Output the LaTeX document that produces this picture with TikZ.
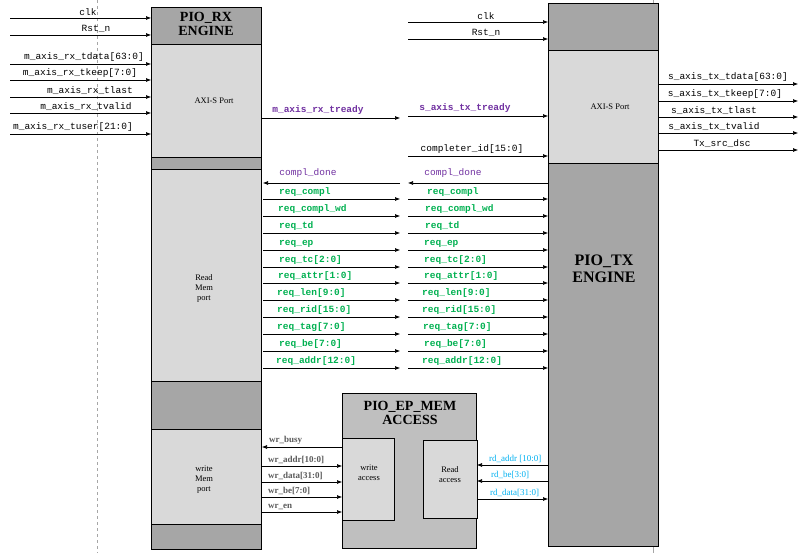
\documentclass[tikz,border=0pt]{standalone}
\usepackage{fontspec}
\setmainfont{Liberation Serif}
\newfontfamily\mono{Liberation Mono}
\usetikzlibrary{arrows.meta}
\definecolor{dk}{HTML}{A6A6A6}
\definecolor{lt}{HTML}{D9D9D9}
\definecolor{md}{HTML}{BFBFBF}
\definecolor{pur}{HTML}{7030A0}
\definecolor{grn}{HTML}{00B050}
\definecolor{cy}{HTML}{00B0F0}
\definecolor{gr}{HTML}{595959}
\tikzset{
 sig/.style={-{Latex[length=5pt,width=4pt]},line width=0.6pt},
 ml/.style={font=\mono\fontsize{9.5}{10}\selectfont,inner sep=1pt,anchor=south},
 gl/.style={font=\mono\bfseries\fontsize{9.5}{10}\selectfont,text=grn,inner sep=1pt,anchor=south west},
 wl/.style={font=\bfseries\fontsize{9}{10}\selectfont,text=gr,inner sep=1pt,anchor=south west},
 cl/.style={font=\fontsize{9}{10}\selectfont,text=cy,inner sep=1pt,anchor=south west},
 blk/.style={draw,line width=0.6pt},
 ttl/.style={font=\bfseries\fontsize{14}{14}\selectfont,align=center},
 sm/.style={font=\fontsize{8.5}{10}\selectfont,align=center}
}
\begin{document}
\begin{tikzpicture}[x=1pt,y=-1pt]
\useasboundingbox (0,0) rectangle (809,553);
\draw[gray!70,dashed] (97,0) -- (97,553);
\draw[gray!70] (653,0) -- (653,553);
% RX engine
\draw[blk,fill=dk] (151,7) rectangle (261,44);
\draw[blk,fill=lt] (151,44) rectangle (261,157);
\draw[blk,fill=dk] (151,157) rectangle (261,169);
\draw[blk,fill=lt] (151,169) rectangle (261,381);
\draw[blk,fill=dk] (151,381) rectangle (261,429);
\draw[blk,fill=lt] (151,429) rectangle (261,524);
\draw[blk,fill=dk] (151,524) rectangle (261,549);
\node[ttl] (rxt) at (206,24) {PIO\_RX\\ENGINE};
\node[sm] (rxa) at (214,101) {AXI-S Port};
\node[sm] (rxr) at (204,288) {Read\\Mem\\port};
\node[sm] (rxw) at (204,480) {write\\Mem\\port};
% TX engine
\draw[blk,fill=dk] (548,3) rectangle (658,50);
\draw[blk,fill=lt] (548,50) rectangle (658,163);
\draw[blk,fill=dk] (548,163) rectangle (658,546);
\node[sm] (txa) at (610,107) {AXI-S Port};
\node[ttl,font=\bfseries\fontsize{16}{17}\selectfont] (txt) at (604,269) {PIO\_TX\\ENGINE};
% MEM
\draw[blk,fill=md] (342,393) rectangle (476,548);
\draw[blk,fill=lt] (342,438) rectangle (394,520);
\draw[blk,fill=lt] (423,440) rectangle (477,518);
\node[ttl] (memt) at (410,413) {PIO\_EP\_MEM\\ACCESS};
\node[sm] (wa) at (369,473) {write\\access};
\node[sm] (ra) at (450,475) {Read\\access};
% left inputs
\foreach \y/\t/\x in {18/clk/88,35/Rst\_n/96,64/m\_axis\_rx\_tdata[63:0]/84,80/m\_axis\_rx\_tkeep[7:0]/80,97/m\_axis\_rx\_tlast/90,113/m\_axis\_rx\_tvalid/86,134/m\_axis\_rx\_tuser[21:0]/73}{
 \draw[sig] (10,\y) -- (151,\y);
 \node[ml] at (\x,\y-1) {\t};}
% TX inputs
\foreach \y/\t/\x in {22/clk/486,39/Rst\_n/486,156/completer\_id[15:0]/472}{
 \draw[sig] (408,\y) -- (548,\y);
 \node[ml] at (\x,\y-1) {\t};}
% tready
\draw[sig] (261,118) -- (400,118);
\node[ml,font=\mono\bfseries\fontsize{9.5}{10}\selectfont,text=pur] at (318,116) {m\_axis\_rx\_tready};
\draw[sig] (408,116) -- (548,116);
\node[ml,font=\mono\bfseries\fontsize{9.5}{10}\selectfont,text=pur] at (465,114) {s\_axis\_tx\_tready};
% compl_done
\draw[sig] (548,183) -- (408,183);
\draw[sig] (400,183) -- (263,183);
\node[ml,text=pur] at (308,179) {compl\_done};
\node[ml,text=pur] at (453,179) {compl\_done};
% req signals
\foreach \y/\t/\xa/\xb in {199/req\_compl/278/426,216/req\_compl\_wd/277/424,233/req\_td/278/424,250/req\_ep/278/423,267/req\_tc[2:0]/278/423,283/req\_attr[1:0]/277/423,300/req\_len[9:0]/276/421,317/req\_rid[15:0]/276/421,334/req\_tag[7:0]/276/422,351/req\_be[7:0]/278/423,368/req\_addr[12:0]/275/421}{
 \draw[sig] (263,\y) -- (400,\y);
 \draw[sig] (408,\y) -- (548,\y);
 \node[gl] at (\xa,\y-1) {\t};
 \node[gl] at (\xb,\y-1) {\t};}
% TX outputs
\foreach \y/\t/\x in {84/s\_axis\_tx\_tdata[63:0]/728,101/s\_axis\_tx\_tkeep[7:0]/725,117/s\_axis\_tx\_tlast/714,133/s\_axis\_tx\_tvalid/714,150/Tx\_src\_dsc/722}{
 \draw[sig] (658,\y) -- (798,\y);
 \node[ml] at (\x,\y-1) {\t};}
% wr signals
\draw[sig] (342,447) -- (262,447);
\node[wl] at (268,446) {wr\_busy};
\foreach \y/\t in {466/wr\_addr[10:0],482/wr\_data[31:0],497/wr\_be[7:0],512/wr\_en}{
 \draw[sig] (262,\y) -- (342,\y);
 \node[wl] at (267,\y-1) {\t};}
% rd signals
\draw[sig] (548,465) -- (477,465);
\node[cl] at (488,464) {rd\_addr [10:0]};
\draw[sig] (548,481) -- (477,481);
\node[cl] at (490,480) {rd\_be[3:0]};
\draw[sig] (477,499) -- (548,499);
\node[cl] at (489,498) {rd\_data[31:0]};
\end{tikzpicture}
\end{document}
